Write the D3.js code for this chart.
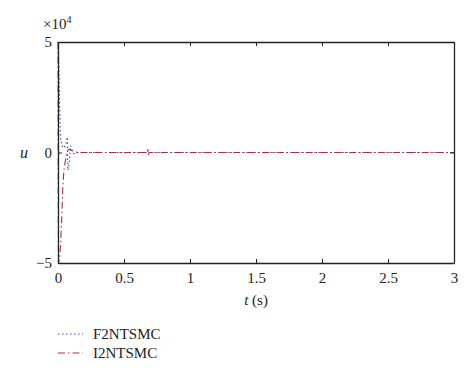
<!DOCTYPE html>
<html><head><meta charset="utf-8">
<script src="https://cdn.jsdelivr.net/npm/d3@7"></script>
<style>body{margin:0;background:#fff}svg{display:block}text{font-family:"Liberation Serif","DejaVu Serif","Noto Serif",serif;fill:#222}</style>
</head><body>
<svg id="c" width="474" height="379"></svg>
<script>
// Data (u in units of 1e4)
const xTicks = [0, 0.5, 1, 1.5, 2, 2.5, 3];
const xTickLabels = ["0", "0.5", "1", "1.5", "2", "2.5", "3"];
const yTicks = [-5, 0, 5];
const yTickLabels = ["\u22125", "0", "5"];
const seriesNames = ["F2NTSMC", "I2NTSMC"];
const f2Time = [0, 0.004, 0.008, 0.012, 0.016, 0.02, 0.03, 0.045, 0.06, 0.07, 0.075, 0.085, 0.095, 0.105, 0.12, 0.15, 0.67, 0.68, 0.685, 0.69, 3];
const f2Value = [5, 4.5, 3.6, 2.2, 1.2, 0.6, 0.3, 0.2, 0.4, 0.7, -0.8, -0.5, 0.3, 0.1, -0.05, 0, 0, 0.1, -0.1, 0, 0];
const i2Time = [0, 0.003, 0.012, 0.02, 0.028, 0.036, 0.045, 0.055, 0.065, 0.075, 0.085, 0.1, 0.12, 0.15, 0.67, 0.68, 0.685, 0.69, 3];
const i2Value = [5, -5, -4.8, -4.1, -3.0, -1.6, -0.8, -0.4, -0.1, 0.1, 0.15, 0.1, 0.05, 0, 0, 0.1, -0.1, 0, 0];

const svg = d3.select("#c");
const L = 58, R = 454, T = 42, B = 263;
const x = d3.scaleLinear().domain([0, 3]).range([L, R]);
const y = d3.scaleLinear().domain([-5, 5]).range([B, T]);

const colors = ["#3a4a9c", "#b02a48"];
const dashes = ["1.5,2.5", "7,3,1.5,3"];
const FONT = '"Liberation Serif","DejaVu Serif","Noto Serif",serif';

const line = d3.line().x(d => x(d[0])).y(d => y(d[1]));
const f2 = f2Time.map((t, i) => [t, f2Value[i]]);
const i2 = i2Time.map((t, i) => [t, i2Value[i]]);

svg.append("path").datum(f2).attr("d", line).attr("fill", "none")
  .attr("stroke", colors[0]).attr("stroke-width", 1.1).attr("stroke-dasharray", dashes[0]);
svg.append("path").datum(i2).attr("d", line).attr("fill", "none")
  .attr("stroke", colors[1]).attr("stroke-width", 1.1).attr("stroke-dasharray", dashes[1]);

// Axes (inward ticks, box)
const fmtX = (d, i) => xTickLabels[i];
const fmtY = (d, i) => yTickLabels[i];
const gB = svg.append("g").attr("transform", `translate(0,${B})`)
  .call(d3.axisBottom(x).tickValues(xTicks).tickFormat(fmtX).tickSizeInner(-4).tickSizeOuter(0).tickPadding(9));
const gT = svg.append("g").attr("transform", `translate(0,${T})`)
  .call(d3.axisTop(x).tickValues(xTicks).tickFormat("").tickSizeInner(-4).tickSizeOuter(0));
const gL = svg.append("g").attr("transform", `translate(${L},0)`)
  .call(d3.axisLeft(y).tickValues(yTicks).tickFormat(fmtY).tickSizeInner(-4).tickSizeOuter(0).tickPadding(6));
const gR = svg.append("g").attr("transform", `translate(${R},0)`)
  .call(d3.axisRight(y).tickValues(yTicks).tickFormat("").tickSizeInner(-4).tickSizeOuter(0));
[gB, gT, gL, gR].forEach(g => {
  g.attr("font-family", FONT).attr("font-size", 15);
  g.select(".domain").attr("stroke", "#222").attr("stroke-width", 1.3);
  g.selectAll(".tick line").attr("stroke", "#222");
  g.selectAll("text").attr("fill", "#222");
});

// exponent
const ex = svg.append("text").attr("x", 43).attr("y", 29).attr("font-family", FONT).attr("font-size", 15);
ex.append("tspan").text("\u00d710");
ex.append("tspan").attr("dy", -6).attr("font-size", 10).text("4");

// axis labels
svg.append("text").attr("x", 20).attr("y", 158).attr("font-family", FONT).attr("font-size", 16).attr("font-style", "italic").text("u");
const xl = svg.append("text").attr("x", 256).attr("y", 305).attr("text-anchor", "middle").attr("font-family", FONT).attr("font-size", 15);
xl.append("tspan").attr("font-style", "italic").text("t");
xl.append("tspan").text(" (s)");

// legend
seriesNames.forEach((name, i) => {
  const ly = 334 + i * 19;
  svg.append("line").attr("x1", 58).attr("x2", 83).attr("y1", ly).attr("y2", ly)
    .attr("stroke", colors[i]).attr("stroke-width", 1.1).attr("stroke-dasharray", dashes[i]);
  svg.append("text").attr("x", 93).attr("y", ly + 5).attr("font-family", FONT).attr("font-size", 15).text(name);
});
</script>
</body></html>
